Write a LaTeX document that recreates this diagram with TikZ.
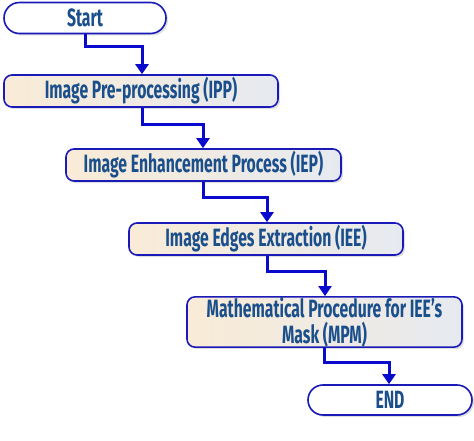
\documentclass[tikz,border=0pt]{standalone}
\usepackage{fontspec}
\setmainfont{Fira Sans}[FakeStretch=0.63]
\usetikzlibrary{arrows.meta,shadows,shapes.misc}
\definecolor{bord}{HTML}{1A1AB8}
\definecolor{arr}{HTML}{0A0ACC}
\definecolor{txt}{HTML}{1B4F8C}
\definecolor{beige}{HTML}{F9EBD6}
\definecolor{grayblue}{HTML}{E6EAF0}
\begin{document}
\begin{tikzpicture}[x=1pt,y=-1pt,
  procbox/.style={draw=bord,line width=1.6pt,rounded corners=8pt,left color=beige,right color=grayblue,
    minimum height=32pt,inner sep=0pt,font=\fontsize{25}{26}\selectfont\bfseries,text=txt,
    drop shadow={shadow xshift=2pt,shadow yshift=-2pt,opacity=0.25}},
  termbox/.style={draw=bord,line width=1.6pt,rounded rectangle,fill=white,
    minimum height=31pt,inner sep=0pt,font=\fontsize{25}{26}\selectfont\bfseries,text=txt,
    drop shadow={shadow xshift=2pt,shadow yshift=-2pt,opacity=0.25}},
  conn/.style={draw=arr,line width=3pt,-{Triangle[length=10pt,width=13pt]}}]
\useasboundingbox (0,0) rectangle (474,441);
\node[termbox,minimum width=162pt] (start) at (85,18) {Start};
\node[procbox,minimum width=274pt] (ipp) at (141,91) {Image Pre-processing (IPP)};
\node[procbox,minimum width=275pt] (iep) at (203.5,165) {Image Enhancement Process (IEP)};
\node[procbox,minimum width=274pt] (iee) at (266,239) {Image Edges Extraction (IEE)};
\node[procbox,minimum width=275pt,minimum height=50pt,align=center,font=\fontsize{25}{26}\selectfont\bfseries] (mpm) at (324.5,322) {Mathematical Procedure for IEE's\\Mask (MPM)};
\node[termbox,minimum width=164pt,minimum height=30pt] (end) at (390,400) {END};
\coordinate (c1) at (85,47);
\coordinate (c2) at (142,47);
\coordinate (c3) at (142,125);
\coordinate (c4) at (203,125);
\coordinate (c5) at (203,197);
\coordinate (c6) at (267,197);
\coordinate (c7) at (267,271);
\coordinate (c8) at (325,271);
\coordinate (c9) at (324,362);
\coordinate (c10) at (389,362);
\draw[conn] (start.south) |- (c2) -- (c2 |- ipp.north);
\draw[conn] (c2 |- ipp.south) -- (c3) -- (c4) -- (c4 |- iep.north);
\draw[conn] (c4 |- iep.south) -- (c5) -- (c6) -- (c6 |- iee.north);
\draw[conn] (c6 |- iee.south) -- (c7) -- (c8) -- (c8 |- mpm.north);
\draw[conn] (c9 |- mpm.south) -- (c9) -- (c10) -- (c10 |- end.north);
\end{tikzpicture}
\end{document}
